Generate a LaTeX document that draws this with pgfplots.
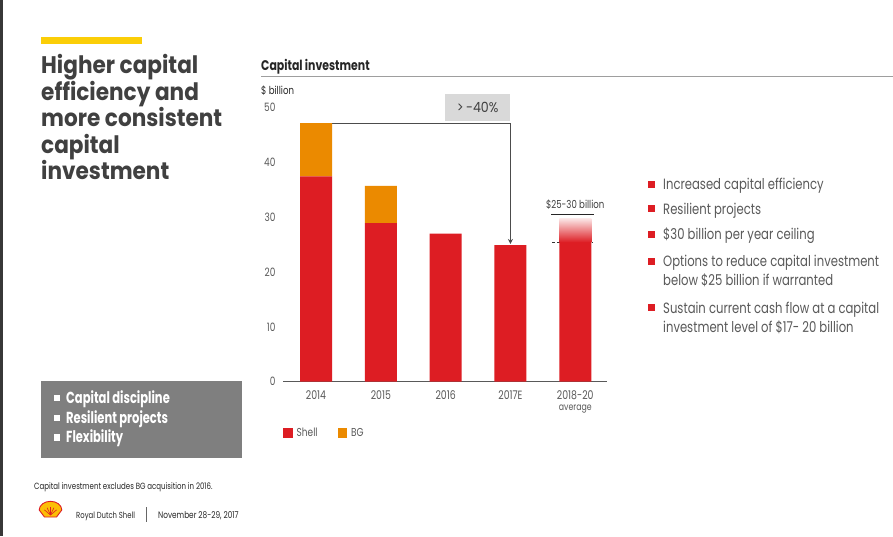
\documentclass[border=0pt]{standalone}
\usepackage{fontspec}
\setmainfont{Poppins}[FakeStretch=0.78]
\newfontfamily\titlefont{Poppins}[FakeStretch=0.9]
\newfontfamily\boxfont{Poppins}[FakeStretch=0.72]
\newfontfamily\labfont{Poppins}[FakeStretch=0.9]
\usepackage{pgfplots}
\pgfplotsset{compat=1.18}
\usetikzlibrary{arrows.meta}
\definecolor{shellred}{RGB}{221,29,35}
\definecolor{shellorange}{RGB}{235,138,0}
\definecolor{shellyellow}{RGB}{251,206,7}
\definecolor{titlegray}{RGB}{64,64,64}
\definecolor{textgray}{RGB}{89,89,89}
\definecolor{boxgray}{RGB}{127,127,127}
\definecolor{labelbox}{RGB}{217,217,217}
\pgfplotstableread{
x shell bg range
0 37.4 9.7 0
1 28.9 6.8 0
2 27.0 0 0
3 24.9 0 0
4 25.4 0 4.4
}\captable
\newcommand{\fs}[1]{\fontsize{#1}{#1}\selectfont}
\begin{document}
\begin{tikzpicture}
\begin{scope}[x=1pt,y=1pt]
\path[use as bounding box] (0,0) rectangle (893,536);
\fill[white] (0,0) rectangle (893,536);
\fill[black!78] (0,0) rectangle (3,536);
% yellow bar
\fill[shellyellow] (41,{536-44}) rectangle (142,{536-37});
% title
\foreach \t/\b in {Higher capital/74, efficiency and/100.5, more consistent/127, capital/153.5, investment/180}{
  \node[anchor=base west, inner sep=0pt, text=titlegray, font=\titlefont\fs{24}\bfseries] at (41,{536-\b}) {\t};
}
% grey box
\fill[boxgray] (41,{536-458}) rectangle (242,{536-381});
\foreach \t/\b in {Capital discipline/403.3, Resilient projects/423.3, Flexibility/442.7}{
  \fill[white] (53.5,{536-\b+2}) rectangle (60,{536-\b+8.5});
  \node[anchor=base west, inner sep=0pt, text=white, font=\boxfont\fs{16}\bfseries] at (66,{536-\b}) {\t};
}
% footer
\node[anchor=base west, inner sep=0pt, text=black!85, font=\fs{9}] at (34,{536-489}) {Capital investment excludes BG acquisition in 2016.};
\node[anchor=base west, inner sep=0pt, text=black!85, font=\fs{8.8}] at (76,{536-518}) {Royal Dutch Shell};
\draw[black!60, line width=0.6pt] (146.7,{536-507}) -- (146.7,{536-522});
\node[anchor=base west, inner sep=0pt, text=black!85, font=\fs{9.4}] at (158,{536-518}) {November 28-29, 2017};
% shell logo
\filldraw[fill=shellyellow!80!orange, draw=shellred, line width=0.9pt] (44.5,{536-517}) -- (39.2,{536-510}) arc[start angle=180, end angle=0, x radius=11.3, y radius=8.7] -- (56.5,{536-517}) -- cycle;
\foreach \a in {40,65,90,115,140}{
  \draw[shellred, line width=0.6pt] (50.5,{536-515}) -- ++(\a:8);
}
% chart header
\node[anchor=base west, inner sep=0pt, text=black!85, font=\fs{14}\bfseries] at (261,{536-70.7}) {Capital investment};
\draw[black!38, line width=1.6pt] (261,{536-76.7}) -- (893,{536-76.7});
\node[anchor=base west, inner sep=0pt, text=black!85, font=\fs{11}] at (261,{536-95}) {\$ billion};
% right bullets
\foreach \t/\b/\sq in {Increased capital efficiency/190/1, Resilient projects/214.5/1, \$30 billion per year ceiling/240/1, Options to reduce capital investment/266.5/1, below \$25 billion if warranted/285.5/0, Sustain current cash flow at a capital/313/1, investment level of \$17- 20 billion/332/0}{
  \ifnum\sq=1
    \fill[shellred] (648,{536-\b+2}) rectangle (655,{536-\b+9});
  \fi
  \node[anchor=base west, inner sep=0pt, text=textgray, font=\fs{14.9}] at (663,{536-\b}) {\t};
}
\end{scope}
\begin{axis}[
  at={(283pt,154.3pt)}, anchor=south west,
  scale only axis, width=324pt, height=274.4pt,
  xmin=-0.51, xmax=4.49, ymin=0, ymax=50,
  ybar stacked, bar width=32pt,
  axis x line*=bottom, axis y line*=left,
  y axis line style={draw=none},
  x axis line style={draw=textgray, line width=0.9pt},
  major tick length=0pt,
  ytick={0,10,20,30,40,50},
  xtick=data,
  xticklabels={2014,2015,2016,2017E,{2018-20\\[-1pt]{\fs{10}average}}},
  /pgf/number format/assume math mode=true,
  yticklabel style={font=\fs{11.5}, text=textgray, xshift=-4pt},
  xticklabel style={font=\fontsize{12}{12}\selectfont, text=textgray, align=center, yshift=-5pt},
  clip=false,
  legend columns=2,
  legend style={at={(0,0)}, anchor=north west, yshift=-44pt, draw=none, fill=none, inner sep=0pt,
    font=\fs{11.5}, text=textgray, /tikz/every even column/.append style={column sep=18pt}},
  legend image code/.code={\fill[#1] (0pt,-5pt) rectangle (9.5pt,5pt);},
]
\addplot[fill=shellred, draw=none] table[x=x, y=shell] {\captable};
\addlegendentry{\hspace{2pt}Shell}
\addplot[fill=shellorange, draw=none] table[x=x, y=bg] {\captable};
\addlegendentry{\hspace{2pt}BG}
\addplot[draw=none, top color=shellred!10, bottom color=shellred] table[x=x, y=range] {\captable};
% annotations
\fill[labelbox] (axis cs:1.99,52.4) rectangle (axis cs:3.0,47.5);
\coordinate (lab) at (axis cs:2.495,49.95);
\coordinate (rng) at (axis cs:4.0,30.55);
\draw[black!70, line width=0.8pt, -{Stealth[length=5pt,width=5pt]}] (axis cs:0.247,47.1) -- (axis cs:3,47.1) -- (axis cs:3,25.1);
\draw[black!80, line width=1pt, dash pattern=on 3pt off 2pt] (axis cs:3.645,25.4) -- (axis cs:4.28,25.4);
\draw[black!85, line width=1pt] (axis cs:3.63,30.55) -- (axis cs:4.29,30.55);
\end{axis}
\node[text=titlegray, font=\labfont\fs{14}] at (lab) {>\,-40\%};
\node[anchor=south, inner sep=0pt, yshift=4pt, text=titlegray, font=\fs{11}] at (rng) {\$25-30 billion};
\end{tikzpicture}
\end{document}
